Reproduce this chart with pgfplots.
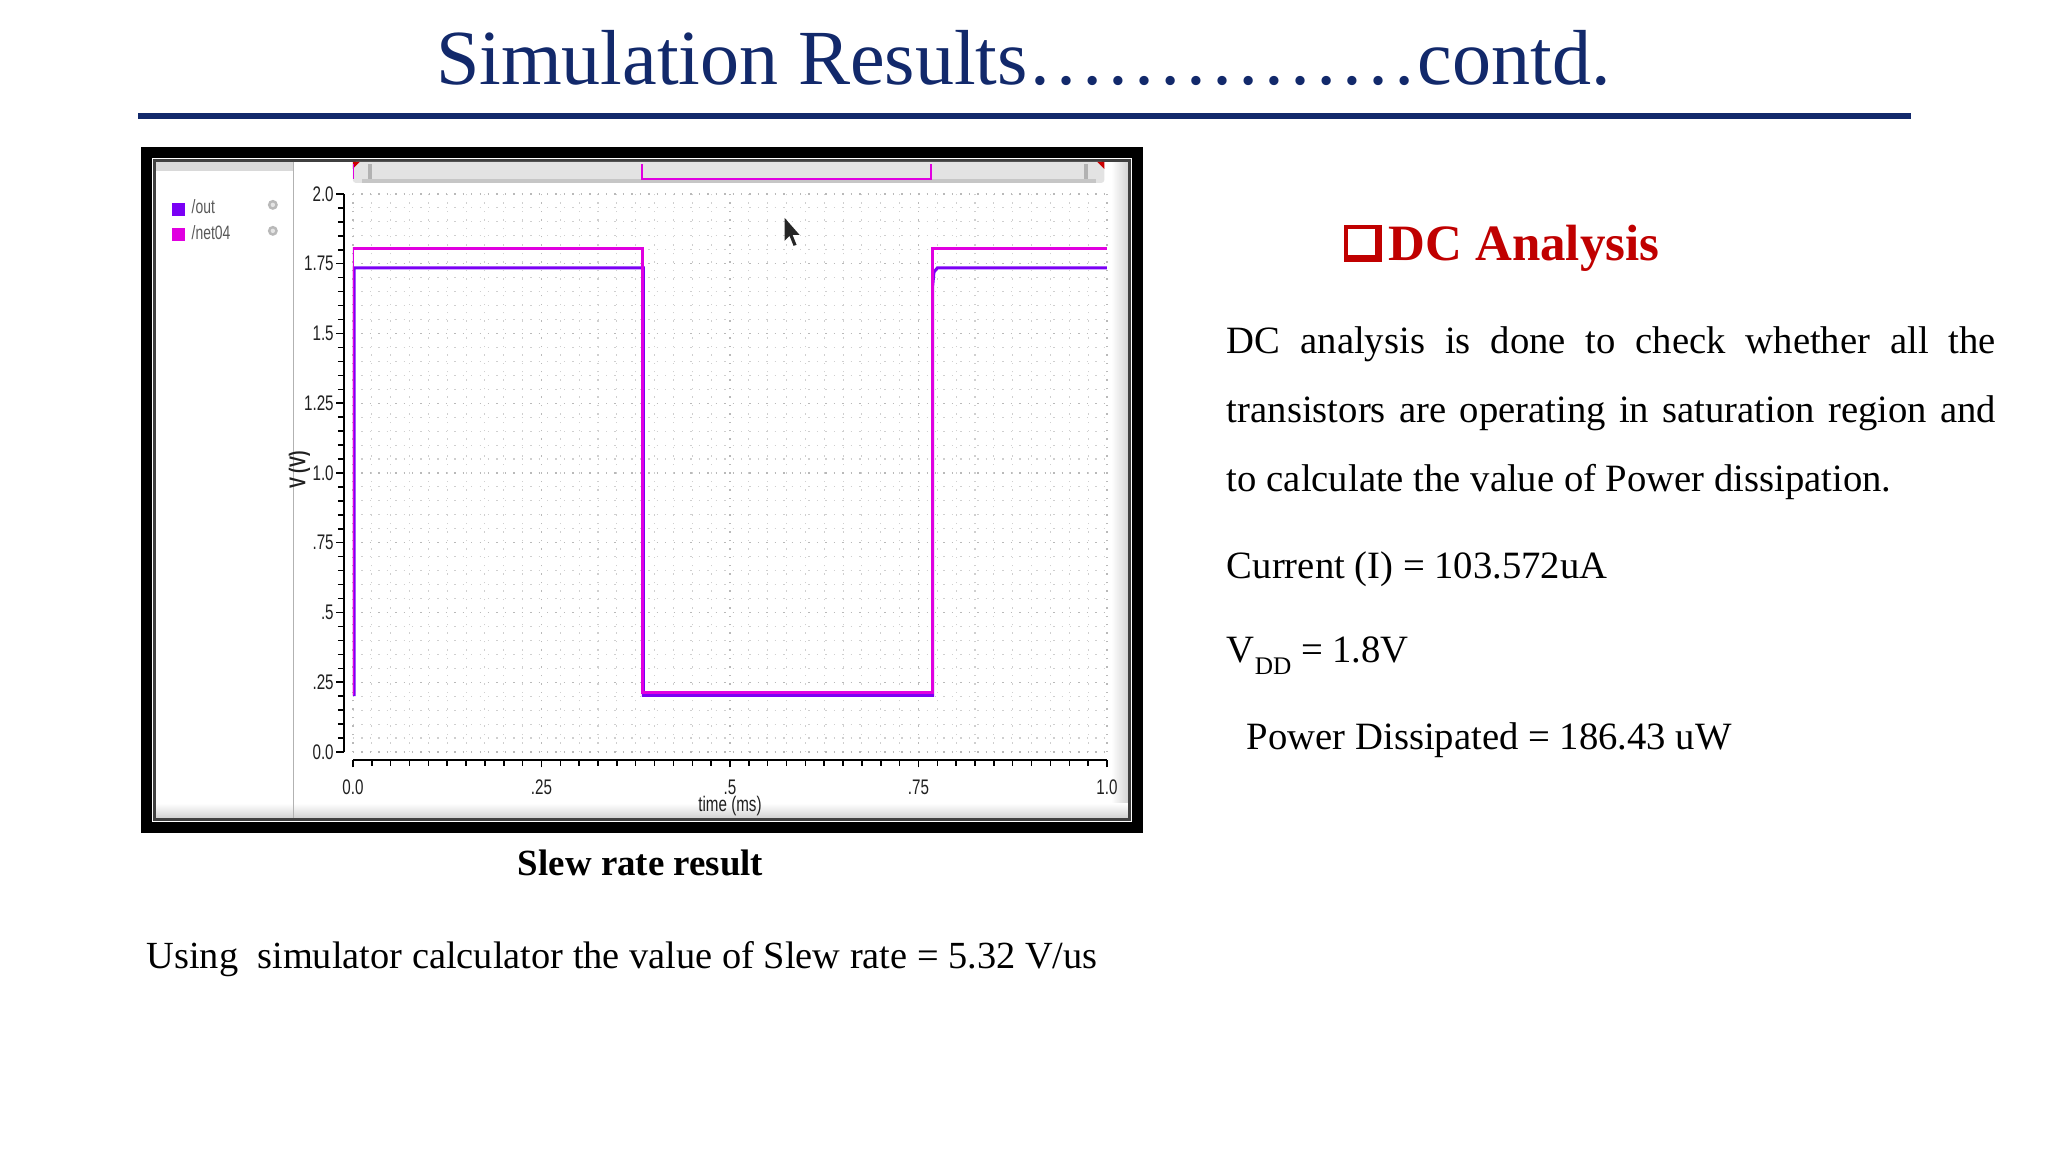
\documentclass[border=0pt]{standalone}
\usepackage{fontspec}
\setmainfont{Liberation Serif}
\newfontfamily\chartfont[FakeStretch=0.72]{Liberation Sans}
\usepackage{pgfplots}
\usepackage{pgfplotstable}
\pgfplotsset{compat=1.18}
\definecolor{navy}{HTML}{12296B}
\definecolor{dcred}{HTML}{C00000}
\definecolor{netmag}{HTML}{E000E0}
\definecolor{outpur}{HTML}{7A00F5}
\definecolor{tickgray}{HTML}{202020}
\newcommand\cf{\chartfont\fontsize{6}{7}\selectfont}
\newcommand\lf{\chartfont\fontsize{5.5}{6.5}\selectfont}
\newcommand\bodyf{\fontsize{11}{13}\selectfont}

\pgfplotstableread{
t v
0 0.205
0 1.806
0.3846 1.806
0.3846 0.212
0.768 0.212
0.768 1.806
1 1.806
}\netdata

\pgfplotstableread{
t v
0.0015 0.200
0.0015 1.735
0.3852 1.735
0.3852 0.203
0.7688 0.203
0.7688 1.67
0.7705 1.72
0.775 1.735
1 1.735
}\outdata

\begin{document}
\begin{tikzpicture}
\path[fill=white] (0,0) rectangle (20.48cm,11.52cm);
\begin{scope}[shift={(0cm,11.52cm)}, x=0.01cm, y=-0.01cm]
 % title and rule
 \node[anchor=base, text=navy, font=\fontsize{22.2}{27}\selectfont, inner sep=0pt] at (1024,85) {Simulation Results……………contd.};
 \fill[navy] (138,113) rectangle (1912,119);
 % chart frame
 \fill[black] (141,147) rectangle (1144,833);
 \fill[white] (152,158) rectangle (1133,822);
 \shade[left color=white, right color=gray!35] (1112,162) rectangle (1129,818);
 \shade[top color=white, bottom color=gray!35] (156,804) rectangle (1129,818);
 \draw[line width=0.03cm, black!75] (154.5,160.5) rectangle (1130.5,819.5);
 % left pane
 \fill[gray!30] (156,162) rectangle (293,171);
 \draw[gray!60, line width=0.01cm] (293.5,162) -- (293.5,818);
 % scroll bar
 \fill[gray!22, rounded corners=0.03cm] (353,162) rectangle (1105,183);
 \fill[gray!45] (362,179) rectangle (1097,183);
 \fill[gray!60] (368,164) rectangle (372,179);
 \fill[gray!60] (1085,164) rectangle (1089,179);
 \fill[red!80!black] (353,162) -- (360,162) -- (353,169) -- cycle;
 \fill[red!80!black] (1105,162) -- (1098,162) -- (1105,169) -- cycle;
 % heading
 \fill[dcred] (1345,225) rectangle (1383,262);
 \fill[white] (1349,229) rectangle (1376,255);
 \node[anchor=base west, text=dcred, font=\fontsize{14.5}{17}\selectfont\bfseries, inner sep=0pt] at (1389,261) {DC Analysis};
 % paragraph
 \node[anchor=base west, inner sep=0pt, font=\bodyf] at (1227,354) {\makebox[7.69cm][s]{DC analysis is done to check whether all the}};
 \node[anchor=base west, inner sep=0pt, font=\bodyf] at (1227,423) {\makebox[7.69cm][s]{transistors are operating in saturation region and}};
 \node[anchor=base west, inner sep=0pt, font=\bodyf] at (1227,492) {to calculate the value of Power dissipation.};
 \node[anchor=base west, inner sep=0pt, font=\bodyf] at (1227,579) {Current (I) = 103.572uA};
 \node[anchor=base west, inner sep=0pt, font=\bodyf] at (1227,663) {V\raisebox{-3.3pt}{\fontsize{7.2}{8}\selectfont DD} = 1.8V};
 \node[anchor=base west, inner sep=0pt, font=\bodyf] at (1247,750) {Power Dissipated = 186.43 uW};
 % captions
 \node[anchor=base, inner sep=0pt, font=\fontsize{10.5}{12}\selectfont\bfseries] at (641,876) {Slew rate result};
 \node[anchor=base west, inner sep=0pt, font=\fontsize{10.92}{13}\selectfont] at (146,969) {Using\ \ simulator calculator the value of Slew rate = 5.32 V/us};
\end{scope}

\begin{axis}[
 at={(3.53cm,4.00cm)}, anchor=south west, scale only axis,
 width=7.54cm, height=5.58cm,
 xmin=0, xmax=1, ymin=0, ymax=2,
 axis lines=left, axis line style={-, black, line width=0.02cm},
 axis x line shift=0.08cm, axis y line shift=0.09cm,
 xtick={0,0.25,0.5,0.75,1}, xticklabels={0.0,.25,.5,.75,1.0},
 ytick={0,0.25,0.5,0.75,1,1.25,1.5,1.75,2},
 yticklabels={0.0,.25,.5,.75,1.0,1.25,1.5,1.75,2.0},
 minor x tick num=9, minor y tick num=4,
 tick align=outside, major tick length=0.075cm, minor tick length=0.06cm,
 tick style={black, line width=0.015cm},
 grid=both,
 major grid style={gray!55, dotted, line width=0.012cm},
 minor grid style={gray!38, dotted, line width=0.011cm},
 ticklabel style={font=\cf, text=tickgray},
 yticklabel style={inner xsep=0.6pt},
 xlabel={time (ms)}, ylabel={V (V)},
 xlabel style={font=\cf, text=tickgray, at={(axis description cs:0.5,-0.097)}, anchor=center},
 ylabel style={font=\chartfont\fontsize{6.5}{7.5}\selectfont\bfseries, text=tickgray, at={(axis description cs:-0.071,0.505)}, anchor=center},
 legend cell align=left,
 legend style={at={(axis description cs:-0.2414,1.004)}, anchor=north west, draw=none, fill=none,
   font=\lf, text=gray!70!black, row sep=-2.2pt, inner sep=0pt},
 legend image code/.code={\fill[#1, draw=none] (0cm,-0.065cm) rectangle (0.13cm,0.065cm);},
]
\addplot[outpur, line width=0.03cm] table {\outdata};
\addlegendentry{/out}
\addplot[netmag, line width=0.03cm] table {\netdata};
\addlegendentry{/net04}
\end{axis}

% overview thumbnail in the scroll bar
\begin{scope}
\clip (3.53cm,9.70cm) rectangle (11.05cm,9.87cm);
\begin{axis}[
 at={(3.53cm,9.72cm)}, anchor=south west, scale only axis,
 width=7.52cm, height=0.16cm,
 xmin=0, xmax=1, ymin=0.15, ymax=1.4,
 axis lines=none, xtick=\empty, ytick=\empty, clip=true,
]
\addplot[netmag, line width=0.02cm] table {\netdata};
\end{axis}
\end{scope}

\begin{scope}[shift={(0cm,11.52cm)}, x=0.01cm, y=-0.01cm]
 % eye icons
 \fill[gray!55] (273,205) circle (0.05cm);
 \fill[gray!20] (273,205) circle (0.022cm);
 \fill[gray!55] (273,231) circle (0.05cm);
 \fill[gray!20] (273,231) circle (0.022cm);
 % mouse cursor
 \fill[black!85] (785,218) -- (785,241) -- (790,236) -- (794,246) -- (797,245) -- (793,235) -- (800,235) -- cycle;
\end{scope}
\end{tikzpicture}
\end{document}
